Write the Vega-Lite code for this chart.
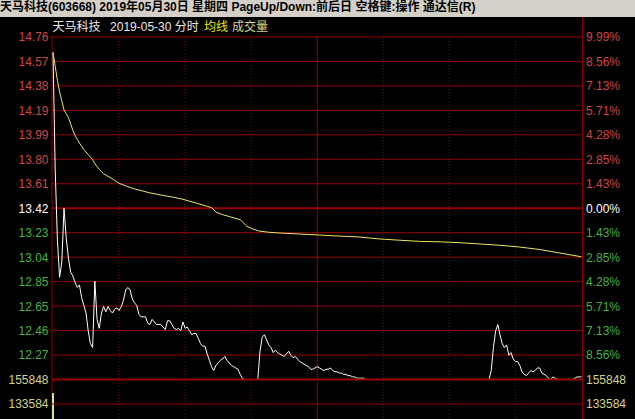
{
  "$schema": "https://vega.github.io/schema/vega-lite/v6.json",
  "width": 635,
  "height": 402,
  "autosize": {"type": "none"},
  "padding": {"top": 17, "left": 0, "right": 0, "bottom": 0},
  "background": "#d4d0c8",
  "title": {
    "text": "天马科技(603668) 2019年05月30日 星期四 PageUp/Down:前后日 空格键:操作 通达信(R)",
    "anchor": "start", "orient": "top", "frame": "group", "offset": 4, "dy": 10, "baseline": "alphabetic",
    "font": "Liberation Sans, Noto Sans CJK SC", "fontSize": 12, "fontWeight": "bold", "color": "#000000"
  },
  "config": {
    "view": {"fill": "#000000", "stroke": null},
    "axis": {"ticks": false, "tickSize": 0, "domain": false, "grid": false, "labelFont": "Liberation Sans", "labelFontSize": 12, "labelOverlap": false, "labelFlush": false, "labelBound": false}
  },
  "datasets": {
    "price": [
      {"m":0,"p":14.64},{"m":1,"p":13.72},{"m":2,"p":13.17},{"m":3,"p":12.88},{"m":4,"p":13.0},{"m":5,"p":13.42},{"m":6,"p":13.19},{"m":7,"p":13.03},{"m":8,"p":12.92},{"m":9,"p":12.89},
      {"m":10,"p":12.84},{"m":11,"p":12.8},{"m":12,"p":12.82},{"m":13,"p":12.72},{"m":14,"p":12.66},{"m":15,"p":12.6},{"m":16,"p":12.46},{"m":17,"p":12.36},{"m":18,"p":12.33},{"m":19,"p":12.85},
      {"m":20,"p":12.55},{"m":21,"p":12.48},{"m":22,"p":12.6},{"m":23,"p":12.65},{"m":24,"p":12.61},{"m":25,"p":12.65},{"m":26,"p":12.62},{"m":27,"p":12.6},{"m":28,"p":12.63},{"m":29,"p":12.64},
      {"m":30,"p":12.62},{"m":31,"p":12.65},{"m":32,"p":12.7},{"m":33,"p":12.78},{"m":34,"p":12.8},{"m":35,"p":12.78},{"m":36,"p":12.71},{"m":37,"p":12.68},{"m":38,"p":12.66},{"m":39,"p":12.59},
      {"m":40,"p":12.57},{"m":41,"p":12.57},{"m":42,"p":12.57},{"m":43,"p":12.52},{"m":44,"p":12.51},{"m":45,"p":12.55},{"m":46,"p":12.53},{"m":47,"p":12.51},{"m":48,"p":12.51},{"m":49,"p":12.51},
      {"m":50,"p":12.49},{"m":51,"p":12.47},{"m":52,"p":12.54},{"m":53,"p":12.54},{"m":54,"p":12.51},{"m":55,"p":12.48},{"m":56,"p":12.47},{"m":57,"p":12.48},{"m":58,"p":12.46},{"m":59,"p":12.53},
      {"m":60,"p":12.48},{"m":61,"p":12.49},{"m":62,"p":12.46},{"m":63,"p":12.43},{"m":64,"p":12.44},{"m":65,"p":12.44},{"m":66,"p":12.4},{"m":67,"p":12.36},{"m":68,"p":12.34},{"m":69,"p":12.34},
      {"m":70,"p":12.28},{"m":71,"p":12.23},{"m":72,"p":12.18},{"m":73,"p":12.15},{"m":74,"p":12.19},{"m":75,"p":12.21},{"m":76,"p":12.23},{"m":77,"p":12.24},{"m":78,"p":12.26},{"m":79,"p":12.23},
      {"m":80,"p":12.21},{"m":81,"p":12.19},{"m":82,"p":12.18},{"m":83,"p":12.17},{"m":84,"p":12.16},{"m":85,"p":12.12},{"m":86,"p":12.09},{"m":87,"p":12.08},{"m":88,"p":12.08},{"m":89,"p":12.08},
      {"m":90,"p":12.08},{"m":91,"p":12.08},{"m":92,"p":12.08},{"m":93,"p":12.08},{"m":94,"p":12.3},{"m":95,"p":12.41},{"m":96,"p":12.43},{"m":97,"p":12.39},{"m":98,"p":12.35},{"m":99,"p":12.33},
      {"m":100,"p":12.29},{"m":101,"p":12.31},{"m":102,"p":12.29},{"m":103,"p":12.28},{"m":104,"p":12.27},{"m":105,"p":12.26},{"m":106,"p":12.28},{"m":107,"p":12.3},{"m":108,"p":12.27},{"m":109,"p":12.25},
      {"m":110,"p":12.26},{"m":111,"p":12.24},{"m":112,"p":12.22},{"m":113,"p":12.21},{"m":114,"p":12.2},{"m":115,"p":12.19},{"m":116,"p":12.18},{"m":117,"p":12.16},{"m":118,"p":12.16},{"m":119,"p":12.17},
      {"m":120,"p":12.18},{"m":121,"p":12.17},{"m":122,"p":12.16},{"m":123,"p":12.15},{"m":124,"p":12.16},{"m":125,"p":12.16},{"m":126,"p":12.17},{"m":127,"p":12.15},{"m":128,"p":12.14},{"m":129,"p":12.14},
      {"m":130,"p":12.13},{"m":131,"p":12.13},{"m":132,"p":12.12},{"m":133,"p":12.12},{"m":134,"p":12.11},{"m":135,"p":12.11},{"m":136,"p":12.1},{"m":137,"p":12.1},{"m":138,"p":12.09},{"m":139,"p":12.09},
      {"m":140,"p":12.09},{"m":141,"p":12.09},{"m":142,"p":12.08},{"m":143,"p":12.08},{"m":144,"p":12.08},{"m":145,"p":12.08},{"m":146,"p":12.08},{"m":147,"p":12.08},{"m":148,"p":12.08},{"m":149,"p":12.08},
      {"m":150,"p":12.08},{"m":151,"p":12.08},{"m":152,"p":12.08},{"m":153,"p":12.08},{"m":154,"p":12.08},{"m":155,"p":12.08},{"m":156,"p":12.08},{"m":157,"p":12.08},{"m":158,"p":12.08},{"m":159,"p":12.08},
      {"m":160,"p":12.08},{"m":161,"p":12.08},{"m":162,"p":12.08},{"m":163,"p":12.08},{"m":164,"p":12.08},{"m":165,"p":12.08},{"m":166,"p":12.08},{"m":167,"p":12.08},{"m":168,"p":12.08},{"m":169,"p":12.08},
      {"m":170,"p":12.08},{"m":171,"p":12.08},{"m":172,"p":12.08},{"m":173,"p":12.08},{"m":174,"p":12.08},{"m":175,"p":12.08},{"m":176,"p":12.08},{"m":177,"p":12.08},{"m":178,"p":12.08},{"m":179,"p":12.08},
      {"m":180,"p":12.08},{"m":181,"p":12.08},{"m":182,"p":12.08},{"m":183,"p":12.08},{"m":184,"p":12.08},{"m":185,"p":12.08},{"m":186,"p":12.08},{"m":187,"p":12.08},{"m":188,"p":12.08},{"m":189,"p":12.08},
      {"m":190,"p":12.08},{"m":191,"p":12.08},{"m":192,"p":12.08},{"m":193,"p":12.08},{"m":194,"p":12.08},{"m":195,"p":12.08},{"m":196,"p":12.08},{"m":197,"p":12.08},{"m":198,"p":12.08},{"m":199,"p":12.15},
      {"m":200,"p":12.33},{"m":201,"p":12.46},{"m":202,"p":12.51},{"m":203,"p":12.43},{"m":204,"p":12.36},{"m":205,"p":12.33},{"m":206,"p":12.35},{"m":207,"p":12.27},{"m":208,"p":12.29},{"m":209,"p":12.24},
      {"m":210,"p":12.22},{"m":211,"p":12.22},{"m":212,"p":12.19},{"m":213,"p":12.14},{"m":214,"p":12.12},{"m":215,"p":12.11},{"m":216,"p":12.13},{"m":217,"p":12.15},{"m":218,"p":12.14},{"m":219,"p":12.15},
      {"m":220,"p":12.17},{"m":221,"p":12.17},{"m":222,"p":12.13},{"m":223,"p":12.12},{"m":224,"p":12.11},{"m":225,"p":12.09},{"m":226,"p":12.08},{"m":227,"p":12.1},{"m":228,"p":12.09},{"m":229,"p":12.08},
      {"m":230,"p":12.08},{"m":231,"p":12.08},{"m":232,"p":12.08},{"m":233,"p":12.08},{"m":234,"p":12.08},{"m":235,"p":12.08},{"m":236,"p":12.08},{"m":237,"p":12.09},{"m":238,"p":12.1},{"m":239,"p":12.1},
      {"m":240,"p":12.1}
    ],
    "avg": [
      {"m":0,"a":14.64},{"m":1,"a":14.53},{"m":2,"a":14.42},{"m":3,"a":14.33},{"m":4,"a":14.26},{"m":5,"a":14.19},{"m":6,"a":14.16},{"m":7,"a":14.13},{"m":8,"a":14.08},{"m":9,"a":14.03},
      {"m":10,"a":13.99},{"m":11,"a":13.96},{"m":12,"a":13.93},{"m":13,"a":13.905},{"m":14,"a":13.88},{"m":15,"a":13.86},{"m":16,"a":13.84},{"m":17,"a":13.82},{"m":18,"a":13.8},{"m":19,"a":13.77},
      {"m":20,"a":13.745},{"m":21,"a":13.725},{"m":22,"a":13.705},{"m":23,"a":13.69},{"m":25,"a":13.67},{"m":27,"a":13.65},{"m":30,"a":13.615},{"m":33,"a":13.595},{"m":36,"a":13.576},{"m":40,"a":13.558},
      {"m":44,"a":13.54},{"m":50,"a":13.52},{"m":55,"a":13.505},{"m":59,"a":13.49},{"m":65,"a":13.46},{"m":70,"a":13.435},{"m":72,"a":13.425},{"m":74,"a":13.39},{"m":77,"a":13.37},{"m":80,"a":13.355},
      {"m":85,"a":13.33},{"m":88,"a":13.28},{"m":90,"a":13.262},{"m":94,"a":13.24},{"m":98,"a":13.232},{"m":103,"a":13.226},{"m":112,"a":13.218},{"m":121,"a":13.21},{"m":130,"a":13.202},{"m":139,"a":13.195},
      {"m":148,"a":13.18},{"m":157,"a":13.17},{"m":167,"a":13.16},{"m":176,"a":13.157},{"m":185,"a":13.15},{"m":194,"a":13.14},{"m":203,"a":13.13},{"m":212,"a":13.116},{"m":221,"a":13.097},{"m":230,"a":13.07},
      {"m":240,"a":13.04}
    ],
    "volume": [{"m":0,"v":143500}],
    "levels": [
      {"p":14.76},{"p":14.5686},{"p":14.3771},{"p":14.1857},{"p":13.9943},{"p":13.8029},{"p":13.6114},{"p":13.42},
      {"p":13.2286},{"p":13.0371},{"p":12.8457},{"p":12.6543},{"p":12.4629},{"p":12.2714}
    ],
    "vlevels": [{"v":155848},{"v":133584}],
    "times": [{"m":30},{"m":60},{"m":90},{"m":120},{"m":150},{"m":180},{"m":210}]
  },
  "layer": [
    {
      "layer": [
        {
          "data": {"name": "levels"},
          "mark": {"type": "rule", "color": "#960000"},
          "encoding": {
            "x": {"datum": -0.45, "type": "quantitative", "scale": {"domain": [-24.07, 264.3], "nice": false, "zero": false}, "axis": null},
            "x2": {"datum": 240.45},
            "y": {"field": "p", "type": "quantitative", "scale": {"domain": [11.7705, 14.9165], "nice": false, "zero": false}, "axis": null},
            "strokeWidth": {"condition": {"test": "datum.p == 13.42", "value": 2}, "value": 1}
          }
        },
        {
          "data": {"name": "times"},
          "mark": {"type": "rule", "color": "#960000"},
          "encoding": {
            "x": {"field": "m", "type": "quantitative"},
            "y": {"datum": 14.775, "axis": null},
            "y2": {"datum": 11.7705},
            "strokeDash": {"condition": {"test": "datum.m == 120", "value": [1, 0]}, "value": [1, 2]}
          }
        },
        {
          "data": {"values": [{"edge": "left"}]},
          "mark": {"type": "rule", "color": "#960000"},
          "encoding": {"x": {"datum": -0.45}, "y": {"datum": 14.775, "axis": null}, "y2": {"datum": 11.7705}}
        },
        {
          "data": {"values": [{"edge": "right"}]},
          "mark": {"type": "rule", "color": "#960000"},
          "encoding": {"x": {"datum": 240.45}}
        },
        {
          "data": {"values": [{"t": "天马科技"}]},
          "mark": {"type": "text", "align": "left", "baseline": "middle", "font": "Liberation Sans, Noto Sans CJK SC", "fontSize": 12, "color": "#e8e8e8"},
          "encoding": {"x": {"datum": -0.2}, "y": {"datum": 14.838, "axis": null}, "text": {"field": "t"}}
        },
        {
          "data": {"values": [{"t": "2019-05-30 分时"}]},
          "mark": {"type": "text", "align": "left", "baseline": "middle", "font": "Liberation Sans, Noto Sans CJK SC", "fontSize": 12, "color": "#e8e8e8"},
          "encoding": {"x": {"datum": 25.9}, "y": {"datum": 14.838, "axis": null}, "text": {"field": "t"}}
        },
        {
          "data": {"values": [{"t": "均线"}]},
          "mark": {"type": "text", "align": "left", "baseline": "middle", "font": "Liberation Sans, Noto Sans CJK SC", "fontSize": 12, "color": "#e8e800"},
          "encoding": {"x": {"datum": 68.6}, "y": {"datum": 14.838, "axis": null}, "text": {"field": "t"}}
        },
        {
          "data": {"values": [{"t": "成交量"}]},
          "mark": {"type": "text", "align": "left", "baseline": "middle", "font": "Liberation Sans, Noto Sans CJK SC", "fontSize": 12, "color": "#d8d890"},
          "encoding": {"x": {"datum": 81.3}, "y": {"datum": 14.838, "axis": null}, "text": {"field": "t"}}
        }
      ]
    },
    {
      "data": {"name": "price"},
      "mark": {"type": "line", "color": "#ffffff", "strokeWidth": 1},
      "encoding": {
        "x": {"field": "m", "type": "quantitative"},
        "y": {
          "field": "p", "type": "quantitative",
          "scale": {"domain": [11.7705, 14.9165], "nice": false, "zero": false},
          "axis": {
            "orient": "left", "offset": -52, "title": null, "format": ".2f", "labelPadding": 4, "labelOverlap": false, "labelBound": false,
            "values": [14.76, 14.5686, 14.3771, 14.1857, 13.9943, 13.8029, 13.6114, 13.42, 13.2286, 13.0371, 12.8457, 12.6543, 12.4629, 12.2714],
            "labelColor": {"condition": [{"test": "datum.value > 13.43", "value": "#d04646"}, {"test": "datum.value > 13.41", "value": "#ffffff"}], "value": "#46b046"}
          }
        }
      }
    },
    {
      "data": {"name": "avg"},
      "mark": {"type": "line", "color": "#e8e860", "strokeWidth": 1},
      "encoding": {
        "x": {"field": "m", "type": "quantitative"},
        "y": {
          "field": "a", "type": "quantitative",
          "scale": {"domain": [11.7705, 14.9165], "nice": false, "zero": false},
          "axis": {
            "orient": "right", "offset": -52.5, "title": null, "labelPadding": 3, "labelOverlap": false,
            "values": [14.76, 14.5686, 14.3771, 14.1857, 13.9943, 13.8029, 13.6114, 13.42, 13.2286, 13.0371, 12.8457, 12.6543, 12.4629, 12.2714],
            "labelExpr": "format(abs(datum.value - 13.42) / 13.42 * 100, '.2f') + '%'",
            "labelColor": {"condition": [{"test": "datum.value > 13.43", "value": "#d04646"}, {"test": "datum.value > 13.41", "value": "#ffffff"}], "value": "#46b046"}
          }
        }
      }
    },
    {
      "data": {"name": "volume"},
      "mark": {"type": "rule", "color": "#e0e090", "strokeWidth": 2, "clip": true},
      "encoding": {
        "x": {"field": "m", "type": "quantitative"},
        "y": {
          "field": "v", "type": "quantitative",
          "scale": {"domain": [119931, 485808], "nice": false, "zero": false},
          "axis": {"orient": "left", "offset": -52, "title": null, "labelPadding": 4, "format": "d", "values": [155848, 133584], "labelColor": "#d2d28c"}
        },
        "y2": {"datum": 0}
      }
    },
    {
      "data": {"name": "vlevels"},
      "mark": {"type": "rule", "color": "#960000"},
      "encoding": {
        "x": {"datum": -0.45},
        "x2": {"datum": 240.45},
        "y": {
          "field": "v", "type": "quantitative",
          "scale": {"domain": [119931, 485808], "nice": false, "zero": false},
          "axis": {"orient": "right", "offset": -52.5, "title": null, "labelPadding": 3, "format": "d", "values": [155848, 133584], "labelColor": "#d2d28c"}
        },
        "strokeWidth": {"condition": {"test": "datum.v == 155848", "value": 2}, "value": 1}
      }
    }
  ],
  "resolve": {"scale": {"y": "independent"}, "axis": {"y": "independent"}}
}
